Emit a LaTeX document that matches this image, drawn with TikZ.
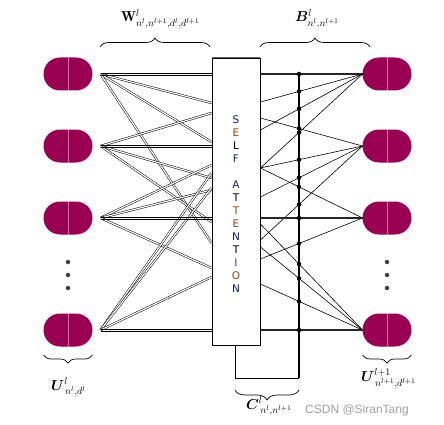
\documentclass[tikz,border=0pt]{standalone}
\usepackage{amsmath,bm}
\usepackage{fontspec}
\usetikzlibrary{shapes.misc,decorations.pathreplacing,calc,intersections}
\newfontfamily\wmfont{Liberation Sans}
\newfontfamily\letterfont{DejaVu Sans}
\definecolor{neuron}{RGB}{153,0,82}
\definecolor{neuronline}{RGB}{215,110,165}
\definecolor{navy}{RGB}{20,30,90}
\definecolor{brownl}{RGB}{140,70,20}
\definecolor{bluel}{RGB}{40,60,170}
\definecolor{wm}{RGB}{160,160,160}
\begin{document}
\begin{tikzpicture}[x=1pt,y=-1pt,
 neuronnode/.style={rounded rectangle, fill=neuron, minimum width=49pt, minimum height=33pt, inner sep=0pt, outer sep=0pt},
 midline/.style={draw=neuronline, line width=0.7pt},
 wconn/.style={draw=black, line width=0.5pt, double=white, double distance=1.2pt},
 wsingle/.style={draw=black, line width=0.6pt},
 bconn/.style={draw=black, line width=0.6pt},
 hconn/.style={draw=black!85, line width=1.1pt},
 bus/.style={draw=black, line width=1.3pt},
 loopline/.style={draw=black, line width=0.9pt},
 junction/.style={circle, fill=black, inner sep=0pt, minimum size=4.5pt},
 ellip/.style={circle, fill=black!75, inner sep=0pt, minimum size=4.5pt},
 bracestyle/.style={decorate, decoration={brace, amplitude=#1}, line width=0.7pt},
 lab/.style={inner sep=0pt, font=\fontsize{14.5}{16}\selectfont},
 letter/.style={inner sep=0pt, font=\letterfont\fontsize{10.5}{12}\selectfont},
 attbox/.style={draw=black, fill=white, line width=0.9pt, minimum width=48pt, minimum height=287pt, inner sep=0pt}
]
\useasboundingbox (0,0) rectangle (444,425);

% neurons
\foreach \i/\y in {1/74,2/146,3/218,4/330}{
  \node[neuronnode] (L\i) at (68,\y) {};
  \draw[midline] (L\i.north) -- (L\i.south);
  \node[neuronnode] (R\i) at (387,\y) {};
  \draw[midline] (R\i.north) -- (R\i.south);
  \coordinate (Lo\i) at ($(L\i.east)+(8,0)$);
}
% ellipsis dots
\foreach \y [count=\n] in {262,275,288}{
  \node[ellip] (el\n) at (68,\y) {};
  \node[ellip] (er\n) at (387,\y) {};
}

% attention box position (node drawn later, on top)
\path (236,201.5) node[attbox, draw=none, fill=none] (SA) {};

% left (W) connections: slanted double lines
\foreach \i/\targets in {1/{103,142,243},2/{113,178,222},3/{165,190,268},4/{173,188,277}}{
  \foreach \t in \targets { \draw[wconn] (Lo\i) -- (SA.west |- 0,\t); }
}
% left (W) connections: horizontal double lines
\foreach \i in {1,2,3,4}{
  \draw[wsingle] ([yshift=1.1pt]Lo\i) -- ([yshift=1.1pt]SA.west |- L\i);
  \draw[wsingle] ([yshift=-1.1pt]Lo\i) -- ([yshift=-1.1pt]SA.west |- L\i);
}

% bus and loop
\coordinate (B1) at (299,74);
\coordinate (B2) at (299,378);
\coordinate (Bc) at (235,378);
\draw[loopline] (SA.south -| Bc) -- (Bc) -- (B2);
\draw[bus, name path=buspath] (B1) -- (B2);

% right (B) connections with junctions
\foreach \s/\j/\st [count=\n] in {74/1/hconn,102/1/bconn,130/1/bconn,168/1/bconn,
   118/2/bconn,168/2/bconn,197/2/bconn,240/2/bconn,
   168/3/bconn,218/3/hconn,259/3/bconn,
   224/4/bconn,247/4/bconn,284/4/bconn,330/4/hconn}{
  \draw[\st, name path=ln\n] (SA.east |- 0,\s) -- (R\j.west);
  \path[name intersections={of=buspath and ln\n, by={x\n}}];
  \node[junction] (j\n) at (x\n) {};
}

% attention box
\node[attbox] (SAbox) at (236,201.5) {};
\draw[draw=black!60, line width=1.6pt] (SAbox.north west) -- (SAbox.north east);
\foreach \ch/\k/\c in {S/0/navy,E/1/brownl,L/2/black,F/3/navy,A/5/navy,T/6/black,T/7/brownl,E/8/brownl,N/9/navy,T/10/black,I/11/bluel,O/12/brownl,N/13/navy}{
  \node[letter, text=\c] (ch\k) at (236,120+13*\k) {\ch};
}

% braces
\coordinate (bw1) at (100,47); \coordinate (bw2) at (210,47);
\draw[bracestyle=9pt] (bw1) -- (bw2);
\coordinate (bb1) at (260,47); \coordinate (bb2) at (370,47);
\draw[bracestyle=9pt] (bb1) -- (bb2);
\draw[bracestyle=8pt] (L4.east |- 0,355) -- (L4.west |- 0,355);
\draw[bracestyle=8pt] (R4.east |- 0,355) -- (R4.west |- 0,355);
\coordinate (bc1) at (299,390); \coordinate (bc2) at (235,390);
\draw[bracestyle=10pt] (bc1) -- (bc2);

% labels
\node[lab, anchor=base west] (Wlab) at (121,22) {$\mathbf{W}^{l}_{n^l,n^{l+1},d^l,d^{l+1}}$};
\node[lab, anchor=base west] (Blab) at (295,22) {$\bm{B}^{l}_{n^l,n^{l+1}}$};
\node[lab, anchor=base west] (Ulab) at (51,390) {$\bm{U}^{l}_{\kern2.5pt n^l,d^l}$};
\node[lab, anchor=base west] (U2lab) at (361,381) {$\bm{U}^{l+1}_{\kern2.5pt n^{l+1},d^{l+1}}$};
\node[lab, anchor=base west] (Clab) at (246,409) {$\bm{C}^{l}_{\kern2.5pt n^l,n^{l+1}}$};
\node[anchor=base west, text=wm, inner sep=0pt, font=\wmfont\fontsize{12}{14}\selectfont] (wmk) at (305,413) {CSDN @SiranTang};
\end{tikzpicture}
\end{document}
